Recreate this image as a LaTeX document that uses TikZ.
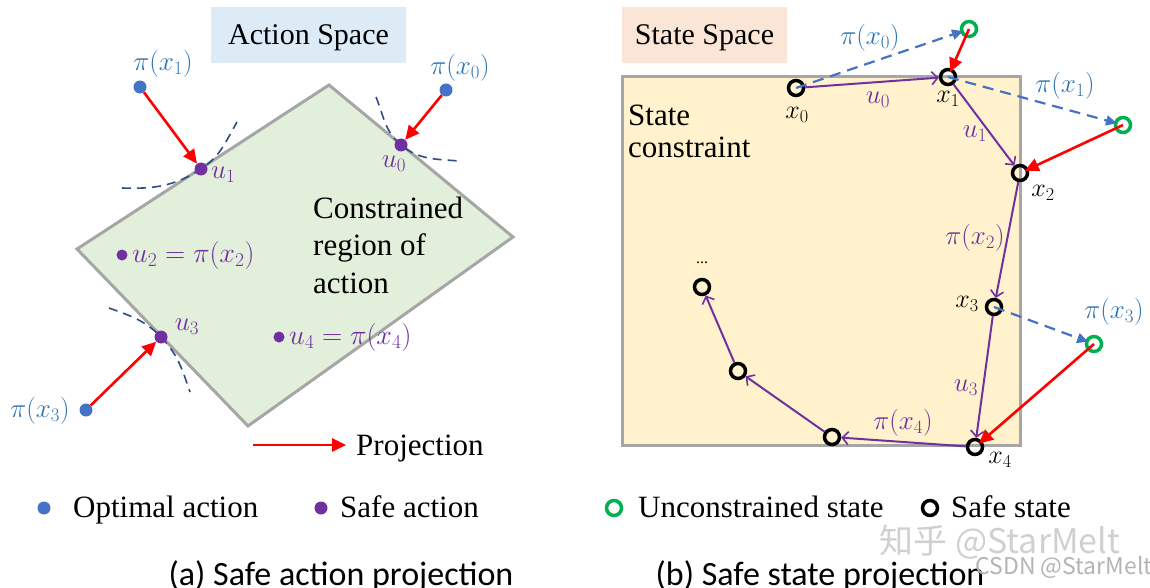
\documentclass[tikz,border=0pt]{standalone}
\usepackage{fix-cm}
\usepackage{fontspec}
\setmainfont{Liberation Serif}
\newfontfamily\capfont{Carlito}
\newfontfamily\wmfont{Noto Sans CJK SC}
\usetikzlibrary{arrows.meta}
\definecolor{actbg}{HTML}{DDEBF7}
\definecolor{stbg}{HTML}{FBE5D6}
\definecolor{regfill}{HTML}{E2EFDA}
\definecolor{boxfill}{HTML}{FFF2CC}
\definecolor{edgegray}{HTML}{A6A6A6}
\definecolor{optblue}{HTML}{4472C4}
\definecolor{lblblue}{HTML}{2E75B6}
\definecolor{safepurple}{HTML}{7030A0}
\definecolor{projred}{HTML}{FF0000}
\definecolor{ucgreen}{HTML}{00B050}
\definecolor{levelnavy}{HTML}{2F4D80}
\definecolor{wmgray}{HTML}{D0D0D0}
\definecolor{wmgray2}{HTML}{B4B4B4}
\tikzset{
  txt/.style={font=\fontsize{31}{37.5}\selectfont, inner sep=0pt},
  mlbl/.style={font=\fontsize{27}{30}\selectfont, inner sep=0pt},
  eqlbl/.style={font=\fontsize{28}{30}\selectfont, inner sep=0pt, text=safepurple, anchor=west},
  slbl/.style={font=\fontsize{26}{28}\selectfont, inner sep=0pt, text=black},
  titlebox/.style={font=\fontsize{30}{36}\selectfont, inner sep=0pt, minimum height=56pt, text depth=0pt},
  bdot/.style={circle, fill=optblue, inner sep=0pt, minimum size=13pt},
  pdot/.style={circle, fill=safepurple, inner sep=0pt, minimum size=13pt},
  safest/.style={circle, draw=black, line width=3.5pt, inner sep=0pt, minimum size=15pt},
  ucst/.style={circle, draw=ucgreen, line width=3.5pt, inner sep=0pt, minimum size=15pt},
  projarrow/.style={draw=projred, line width=2.6pt, -{Triangle[length=14pt,width=13pt]}},
  polarrow/.style={draw=optblue, line width=2.2pt, dash pattern=on 11pt off 7pt, -{Triangle[length=11pt,width=10pt]}},
  steparrow/.style={draw=safepurple, line width=2pt, -{Straight Barb[length=6pt,width=13pt,line width=1.6pt]}},
  levelset/.style={draw=levelnavy, line width=1.6pt, dash pattern=on 9pt off 6pt},
  capt/.style={font=\capfont\fontsize{34}{40}\selectfont, inner sep=0pt, anchor=base},
}
\begin{document}
\begin{tikzpicture}[x=1pt,y=-1pt]
\useasboundingbox (0,0) rectangle (1150,588);

% ---------------- (a) action space ----------------
\node[titlebox, fill=actbg, minimum width=195pt] (acttitle) at (308.5,35) {Action Space};
\draw[fill=regfill, draw=edgegray, line width=3pt] (329,85) -- (513,237) -- (248,426) -- (77,249) -- cycle;

% level sets
\draw[levelset] (122,188) to[out=-2,in=213] (201,169) to[out=33,in=240] (237,122);
\draw[levelset] (376,97) to[out=-68,in=140] (401,145) to[out=-40,in=175] (459,161);
\draw[levelset] (109,308) to[out=-20,in=134] (161,337) to[out=-46,in=109] (190,392);

\node[txt, anchor=west, align=left] (regtxt) at (313,245) {Constrained\\region of\\action};

\node[bdot] (p1) at (140,87) {};
\node[mlbl, text=lblblue] (p1lbl) at (163,64) {$\pi(x_1)$};
\node[pdot] (u1) at (201,169) {};
\node[mlbl, text=safepurple, anchor=west] (u1lbl) at (211,175) {$u_1$};

\node[bdot] (p0) at (446,90) {};
\node[mlbl, text=lblblue] (p0lbl) at (460,68) {$\pi(x_0)$};
\node[pdot] (u0) at (401,145) {};
\node[mlbl, text=safepurple] (u0lbl) at (394,164) {$u_0$};

\node[pdot, minimum size=11pt] (u2) at (122,255) {};
\node[eqlbl] (u2lbl) at (132,255) {$u_2=\pi(x_2)$};

\node[pdot] (u3) at (161,337) {};
\node[mlbl, text=safepurple] (u3lbl) at (187,327) {$u_3$};
\node[pdot, minimum size=11pt] (u4) at (279,337) {};
\node[eqlbl] (u4lbl) at (289,337) {$u_4=\pi(x_4)$};

\node[bdot] (p3) at (86,410) {};
\node[mlbl, text=lblblue] (p3lbl) at (40,411) {$\pi(x_3)$};

\draw[projarrow] (p1) -- (u1);
\draw[projarrow] (p0) -- (u0);
\draw[projarrow] (p3) -- (u3);

\coordinate (projstart) at (253,445);
\coordinate (projend) at (346,445);
\node[txt, anchor=base west] (projtxt) at (356,455) {Projection};
\draw[projarrow] (projstart) -- (projend);

\node[bdot] (legopt) at (44,508) {};
\node[txt, anchor=base west] (legopttxt) at (73,517) {Optimal action};
\node[pdot] (legsafe) at (321,508) {};
\node[txt, anchor=base west] (legsafetxt) at (340,517) {Safe action};

\node[capt] (capa) at (341,585) {(a) Safe action projection};

% ---------------- (b) state space ----------------
\node[titlebox, fill=stbg, minimum width=165pt] (sttitle) at (704.5,35) {State Space};
\draw[fill=boxfill, draw=edgegray, line width=3pt] (622,77) rectangle (1020,445);
\node[font=\fontsize{31}{32}\selectfont, inner sep=0pt, anchor=west, align=left] (sttxt) at (628,131) {State\\constraint};

\node[safest] (x0) at (796,88) {};
\node[safest] (x1) at (948,77) {};
\node[safest] (x2) at (1020,173) {};
\node[safest] (x3) at (994,307) {};
\node[safest] (x4) at (975,447) {};
\node[safest] (s5) at (832,437) {};
\node[safest] (s6) at (738,371) {};
\node[safest] (s7) at (702,287) {};
\node[ucst] (g0) at (969,29) {};
\node[ucst] (g1) at (1123,125) {};
\node[ucst] (g3) at (1094,344) {};

\draw[polarrow, shorten >=-3pt] (x0.center) -- (g0);
\draw[polarrow, shorten >=-3pt] (x1.center) -- (g1);
\draw[polarrow, shorten >=-3pt] (x3.center) -- (g3);

\draw[steparrow] (x0) -- (x1);
\draw[steparrow] (x1) -- (x2);
\draw[steparrow] (x2) -- (x3);
\draw[steparrow] (x3) -- (x4);
\draw[steparrow] (x4) -- (s5);
\draw[steparrow] (s5) -- (s6);
\draw[steparrow] (s6) -- (s7);

\draw[projarrow, shorten >=-4pt] (g0.center) -- (x1);
\draw[projarrow, shorten >=-4pt] (g1.center) -- (x2);
\draw[projarrow, shorten >=-4pt] (g3.center) -- (x4);

\node[slbl] (x0lbl) at (797,115) {$x_0$};
\node[slbl] (x1lbl) at (948,99) {$x_1$};
\node[slbl] (x2lbl) at (1043,193) {$x_2$};
\node[slbl] (x3lbl) at (967,304) {$x_3$};
\node[slbl] (x4lbl) at (1000,460) {$x_4$};
\node[font=\fontsize{16}{16}\selectfont, inner sep=0pt, anchor=base] (dots) at (702,263) {...};

\node[mlbl, text=safepurple] (u0s) at (878,100) {$u_0$};
\node[mlbl, text=safepurple] (u1s) at (975,134) {$u_1$};
\node[mlbl, text=safepurple] (p2s) at (975,238) {$\pi(x_2)$};
\node[mlbl, text=safepurple] (u3s) at (966,388) {$u_3$};
\node[mlbl, text=safepurple] (p4s) at (903,423) {$\pi(x_4)$};
\node[mlbl, text=lblblue] (p0s) at (870,38) {$\pi(x_0)$};
\node[mlbl, text=lblblue] (p1s) at (1065,86) {$\pi(x_1)$};
\node[mlbl, text=lblblue] (p3s) at (1114,312) {$\pi(x_3)$};

\node[ucst] (legu) at (614,508) {};
\node[txt, anchor=base west] (legutxt) at (638,517) {Unconstrained state};
\node[safest] (legs) at (930,508) {};
\node[txt, anchor=base west] (legstxt) at (951,517) {Safe state};

\node[capt] (capb) at (820,585) {(b) Safe state projection};

\node[font=\wmfont\fontsize{34}{34}\selectfont, text=wmgray, inner sep=0pt] (wm1) at (1000,542) {知乎 @StarMelt};
\node[font=\wmfont\fontsize{23}{23}\selectfont, text=wmgray2, inner sep=0pt] (wm2) at (1064,567) {CSDN @StarMelt};
\end{tikzpicture}
\end{document}
